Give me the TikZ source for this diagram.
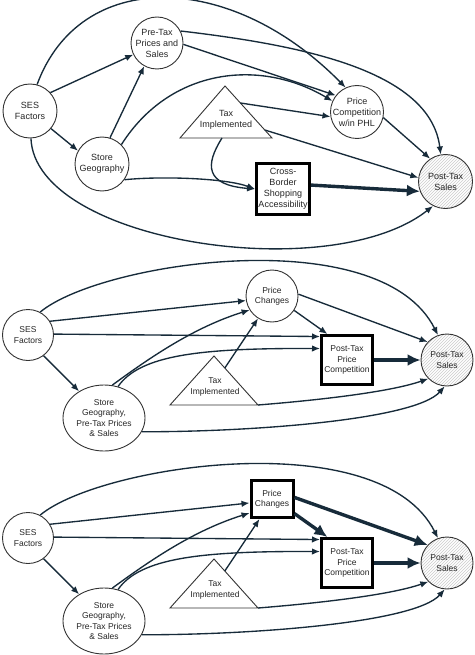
\documentclass[tikz,border=0pt]{standalone}
\usepackage{fontspec}
\setmainfont{Liberation Sans}
\usetikzlibrary{arrows.meta,patterns,shapes.geometric}
\definecolor{edgec}{HTML}{172B3A}
\definecolor{txtc}{HTML}{262626}
\tikzset{
  circ/.style={circle, draw=black!80, line width=0.9pt, inner sep=0pt, fill=white},
  hatch/.style={circle, draw=black!80, line width=0.9pt, inner sep=0pt, pattern=north east lines, pattern color=black!20},
  ell/.style={ellipse, draw=black!80, line width=0.9pt, inner sep=0pt, fill=white},
  boxthick/.style={rectangle, draw=black, line width=3pt, inner sep=0pt, fill=white},
  lbl/.style={font=\fontsize{9}{11}\selectfont, text=txtc, align=center, inner sep=0pt},
  lbls/.style={font=\fontsize{8.5}{10.3}\selectfont, text=txtc, align=center, inner sep=0pt},
  arr/.style={draw=edgec, line width=1.35pt, -{Latex[length=8pt,width=6.5pt]}},
  thickarr/.style={draw=edgec, line width=3.4pt, -{Latex[length=13pt,width=12pt]}},
  tri/.style={draw=black!80, line width=0.9pt, fill=white, line join=miter},
}
\newcommand\lowerpanel[4]{%
\begin{scope}[shift={(0,#2)}]
\node[circ, minimum size=51pt] (ses#1) at (28,335) {};
\node[lbls] (ses#1t) at (ses#1) {SES\\Factors};
\node[ell, minimum width=82pt, minimum height=66pt] (geo#1) at (104,418) {};
\node[lbls] (geo#1t) at (geo#1) {Store\\Geography,\\Pre-Tax Prices\\\& Sales};
\draw[tri] (214,356) coordinate (tax#1a) -- (258,405) coordinate (tax#1r) -- (170,405) coordinate (tax#1l) -- cycle;
\node[lbls] (tax#1) at (215,387) {Tax\\Implemented};
\node[#3] (pch#1) at (272,296) {};
\node[lbls] (pch#1t) at (pch#1) {Price\\Changes};
\node[boxthick, minimum width=51pt, minimum height=49pt] (ppc#1) at (347,360) {};
\node[lbls] (ppc#1t) at (ppc#1) {Post-Tax\\Price\\Competition};
\node[hatch, minimum size=52pt] (post#1) at (447,360) {};
\node[lbls] (post#1t) at (post#1) {Post-Tax\\Sales};
\draw[arr] (ses#1.62) .. controls (100,262) and (380,220) .. (post#1.110);
\draw[arr] (ses#1.32) -- (pch#1.190);
\draw[arr] (ses#1.2) -- (ppc#1.139);
\draw[arr] (ses#1.-53) -- (geo#1.133);
\draw[arr] (geo#1.76) .. controls (152,356) and (195,327) .. (pch#1.212);
\draw[arr] (geo#1.66) .. controls (140,355) and (200,348) .. (ppc#1.157);
\coordinate (tax#1p) at (224.8,368);
\draw[arr] (tax#1p) -- (pch#1.238);
\draw[arr] (tax#1r) .. controls (320,400) and (390,392) .. (post#1.225);
\draw[arr] (geo#1.-20) .. controls (250,432) and (415,420) .. (post#1.-95);
\draw[#4] (pch#1.-33) -- (ppc#1.127);
\draw[#4] (pch#1.4) -- (post#1.137);
\draw[thickarr] (ppc#1.east) -- (post#1.west);
\end{scope}}
\begin{document}
\begin{tikzpicture}[x=1pt, y=-1pt]
\fill[white] (0,0) rectangle (474,655);
\useasboundingbox (0,0) rectangle (474,655);
% ---------- panel 1 ----------
\node[circ, minimum size=54pt] (ses1) at (30,111) {};
\node[lbl] (ses1t) at (ses1) {SES\\Factors};
\node[circ, minimum size=52pt] (pre1) at (157,43) {};
\node[lbl] (pre1t) at (pre1) {Pre-Tax\\Prices and\\Sales};
\node[circ, minimum size=54pt] (geo1) at (102,164) {};
\node[lbl] (geo1t) at (geo1) {Store\\Geography};
\draw[tri] (225,86) coordinate (tax1a) -- (272,138) coordinate (tax1r) -- (180,138) coordinate (tax1l) -- cycle;
\node[lbl] (tax1) at (226,120) {Tax\\Implemented};
\node[circ, minimum size=53pt] (pc1) at (357,112) {};
\node[lbl] (pc1t) at (pc1) {Price\\Competition\\w/in PHL};
\node[boxthick, minimum width=53pt, minimum height=51pt] (cb1) at (283,189) {};
\node[lbl] (cb1t) at (cb1) {Cross-\\Border\\Shopping\\Accessibility};
\node[hatch, minimum size=54pt] (post1) at (445.5,181.5) {};
\node[lbl] (post1t) at (post1) {Post-Tax\\Sales};
\draw[arr] (ses1.42) -- (pre1.206);
\draw[arr] (ses1.-40) -- (geo1.151);
\draw[arr] (geo1.73) -- (pre1.241);
\draw[arr] (ses1.75) .. controls (80,-32) and (230,-30) .. (pc1.115);
\draw[arr] (pre1.27) .. controls (300,45) and (430,70) .. (post1.100);
\draw[arr] (pre1.-3) -- (pc1.142);
\draw[arr] (geo1.45) .. controls (170,68) and (260,58) .. (pc1.156);
\coordinate (tax1p) at (240.4,103);
\coordinate (tax1q) at (264.8,130);
\coordinate (tax1b) at (222,138);
\draw[arr] (tax1p) -- (pc1.190);
\draw[arr] (tax1q) -- (post1.172);
\draw[arr] (tax1b) .. controls (205,165) and (205,185) .. (cb1.west);
\draw[arr] (geo1.-35) .. controls (160,176) and (225,178) .. (cb1.west);
\draw[thickarr] (cb1.8) -- (post1.201);
\draw[arr] (pc1.-12) -- (post1.124);
\draw[arr] (ses1.-88) .. controls (35,242) and (330,287) .. (post1.243);
% ---------- panels 2 and 3 ----------
\lowerpanel{2}{0}{circ, minimum size=52pt}{arr}
\lowerpanel{3}{203}{boxthick, minimum width=42pt, minimum height=37pt}{thickarr}
\end{tikzpicture}
\end{document}
